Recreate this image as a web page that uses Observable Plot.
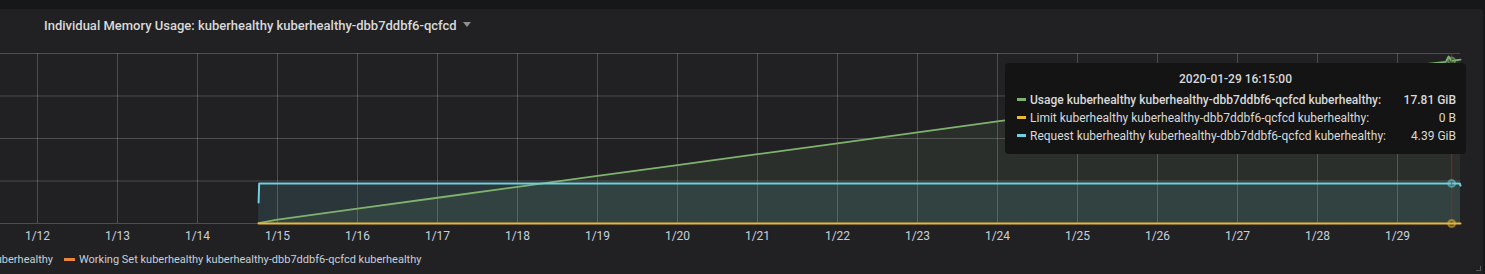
<!DOCTYPE html>
<html><head><meta charset="utf-8">
<script src="https://cdn.jsdelivr.net/npm/d3@7"></script>
<script src="https://cdn.jsdelivr.net/npm/@observablehq/plot@0.6"></script>
<style>
html,body{margin:0;padding:0;background:#161719;width:1485px;height:274px;overflow:hidden;font-family:Roboto,"Noto Sans",sans-serif;}
#panel{position:absolute;left:-10px;top:9px;width:1493px;height:280px;background:#212124;border-radius:3px;}
#title{position:absolute;left:44px;top:17px;font-size:13px;font-weight:500;color:#d8d9da;white-space:nowrap;line-height:18px;}
#title .caret{display:inline-block;margin-left:6px;width:0;height:0;border-left:4px solid transparent;border-right:4px solid transparent;border-top:5px solid #8e8e8e;vertical-align:middle;position:relative;top:-2px;}
#chart{position:absolute;left:0;top:0;}
#tooltip{position:absolute;left:1005px;top:63px;width:461px;height:91px;background:#141414;border-radius:4px;color:#d8d9da;font-size:12px;}
#tooltip .hdr{position:absolute;left:0;right:0;top:8px;text-align:center;font-weight:500;line-height:16px;}
#tooltip .row{position:absolute;left:12px;right:10px;height:16px;line-height:16px;white-space:nowrap;}
#tooltip .row .sw{display:inline-block;width:9px;height:3px;vertical-align:middle;margin-right:4px;position:relative;top:-1px;}
#tooltip .row .val{position:absolute;right:0;top:0;}
#legend{position:absolute;top:252px;left:0;width:1485px;height:16px;font-size:11px;color:#c7d0d9;white-space:nowrap;line-height:16px;}
.litem{position:absolute;top:0;}
.litem .sw{display:inline-block;width:11px;height:3px;vertical-align:middle;margin-right:4px;position:relative;top:-1px;}
#grip{position:absolute;right:4px;bottom:3px;width:4px;height:4px;border-right:1px solid #555;border-bottom:1px solid #555;}
</style>
</head><body>
<div id="panel"></div>
<div id="chart"></div>
<div id="title"></div>
<div id="tooltip"></div>
<div id="legend"></div>
<div id="grip"></div>
<script>
// ---- data (GiB) ----
const podName = "kuberhealthy kuberhealthy-dbb7ddbf6-qcfcd kuberhealthy";
const titleText = "Individual Memory Usage: kuberhealthy kuberhealthy-dbb7ddbf6-qcfcd";
const seriesNames = ["Usage", "Limit", "Request", "Working Set"];
const seriesColors = ["#7eb26d", "#eab839", "#6ed0e0", "#ef843c"];

const usageTimes = ["2020-01-14T18:20Z","2020-01-15T00:00Z","2020-01-16T00:00Z","2020-01-17T00:00Z","2020-01-18T00:00Z","2020-01-19T00:00Z","2020-01-20T00:00Z","2020-01-21T00:00Z","2020-01-22T00:00Z","2020-01-23T00:00Z","2020-01-24T00:00Z","2020-01-25T00:00Z","2020-01-26T00:00Z","2020-01-27T00:00Z","2020-01-28T00:00Z","2020-01-29T00:00Z","2020-01-29T14:30Z","2020-01-29T15:20Z","2020-01-29T16:15Z","2020-01-29T18:54Z"];
const usageValues = [0.05,0.43,1.62,2.82,4.01,5.21,6.40,7.59,8.79,9.98,11.18,12.37,13.57,14.75,15.95,17.14,17.7,18.3,17.81,17.95];

const requestTimes = ["2020-01-14T18:20Z","2020-01-14T18:30Z","2020-01-29T18:40Z","2020-01-29T18:54Z"];
const requestValues = [2.3, 4.39, 4.39, 4.15];

const limitTimes = ["2020-01-14T18:20Z","2020-01-29T18:54Z"];
const limitValues = [0, 0];

const hoverTime = "2020-01-29T16:15Z";
const hoverLabel = "2020-01-29 16:15:00";
const hoverValues = ["17.81 GiB", "0 B", "4.39 GiB"];
const hoverNums = [17.81, 0, 4.39];

const xDomain = ["2020-01-11T12:54Z", "2020-01-29T18:54Z"];
const yTicks = [0, 4.657, 9.313, 13.970, 18.626]; // 0, 5, 10, 15, 20 GB
const dayTicks = ["2020-01-12","2020-01-13","2020-01-14","2020-01-15","2020-01-16","2020-01-17","2020-01-18","2020-01-19","2020-01-20","2020-01-21","2020-01-22","2020-01-23","2020-01-24","2020-01-25","2020-01-26","2020-01-27","2020-01-28","2020-01-29"];

// ---- build ----
const toRows = (ts, vs) => ts.map((t, i) => ({t: new Date(t), v: vs[i]}));
const usage = toRows(usageTimes, usageValues);
const request = toRows(requestTimes, requestValues);
const limit = toRows(limitTimes, limitValues);
const days = dayTicks.map(d => new Date(d + "T00:00Z"));
const hover = new Date(hoverTime);
const hoverPts = [0,1,2].map(i => ({t: hover, v: hoverNums[i], c: seriesColors[i]}));
const fmt = d3.utcFormat("%-m/%-d");
const grid = "rgba(255,255,255,0.2)";

const chart = Plot.plot({
  width: 1485, height: 250,
  marginLeft: 0, marginRight: 25, marginTop: 53, marginBottom: 27,
  style: {background: "transparent", color: "#c7d0d9", fontFamily: "Roboto, sans-serif", fontSize: "12px", overflow: "visible"},
  x: {type: "utc", domain: xDomain.map(d => new Date(d)), ticks: days, tickFormat: fmt, tickSize: 0, tickPadding: 8, label: null},
  y: {domain: [0, yTicks[yTicks.length-1]], axis: null},
  marks: [
    Plot.ruleY(yTicks, {y: d => d, stroke: grid}),
    Plot.ruleX(days, {x: d => d, y1: 0, y2: yTicks[yTicks.length-1], stroke: grid}),
    Plot.areaY(usage, {x: "t", y: "v", fill: seriesColors[0], fillOpacity: 0.1}),
    Plot.areaY(request, {x: "t", y: "v", fill: seriesColors[2], fillOpacity: 0.12}),
    Plot.line(usage, {x: "t", y: "v", stroke: seriesColors[0], strokeWidth: 1.8}),
    Plot.line(request, {x: "t", y: "v", stroke: seriesColors[2], strokeWidth: 2}),
    Plot.line(limit, {x: "t", y: "v", stroke: seriesColors[1], strokeWidth: 2}),
    Plot.ruleX([hover], {x: d => d, y1: 0, y2: yTicks[yTicks.length-1], stroke: "#b3191c", strokeOpacity: 0.85}),
    Plot.dot(hoverPts, {x: "t", y: "v", r: 3.5, stroke: "c", fill: "c", fillOpacity: 0.25, strokeOpacity: 0.5, strokeWidth: 2})
  ]
});
document.getElementById("chart").appendChild(chart);

// title
const title = document.getElementById("title");
title.textContent = titleText;
const caret = document.createElement("span"); caret.className = "caret"; title.appendChild(caret);

// tooltip
const tip = document.getElementById("tooltip");
const hdr = document.createElement("div"); hdr.className = "hdr"; hdr.textContent = hoverLabel; tip.appendChild(hdr);
[0,1,2].forEach(i => {
  const row = document.createElement("div"); row.className = "row";
  row.style.top = (29 + i*18) + "px";
  if (i === 0) row.style.fontWeight = "500";
  const sw = document.createElement("span"); sw.className = "sw"; sw.style.background = seriesColors[i];
  row.appendChild(sw);
  row.appendChild(document.createTextNode(seriesNames[i] + " " + podName + ":"));
  const val = document.createElement("span"); val.className = "val"; val.textContent = hoverValues[i];
  row.appendChild(val);
  tip.appendChild(row);
});

// legend
const legend = document.getElementById("legend");
const mk = (i) => {
  const d = document.createElement("span"); d.className = "litem";
  const sw = document.createElement("span"); sw.className = "sw"; sw.style.background = seriesColors[i];
  d.appendChild(sw); d.appendChild(document.createTextNode(seriesNames[i] + " " + podName));
  return d;
};
const l3 = mk(2); l3.style.right = (1485 - 53) + "px"; legend.appendChild(l3);
const l4 = mk(3); l4.style.left = "64px"; legend.appendChild(l4);
</script>
</body></html>
